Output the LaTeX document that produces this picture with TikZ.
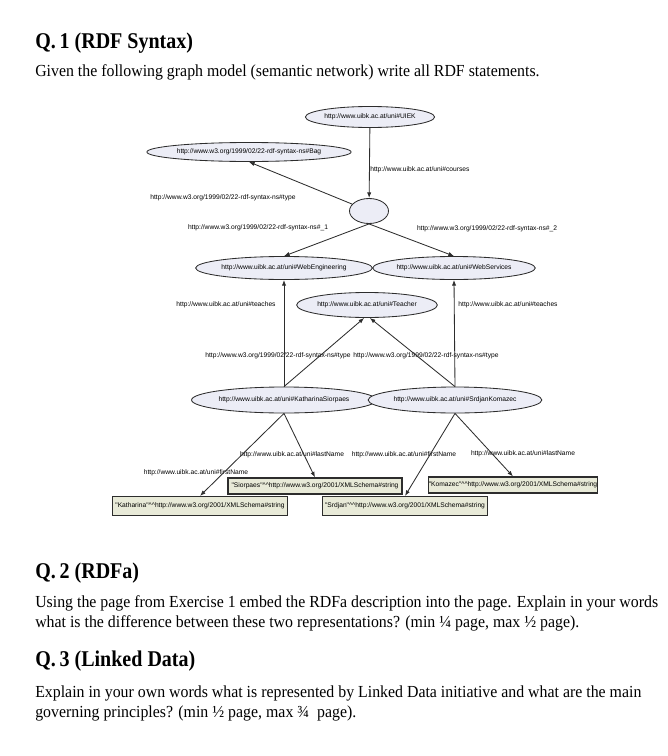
\documentclass[tikz,border=0pt]{standalone}
\usepackage{fontspec}
\setmainfont{Liberation Serif}[FakeStretch=0.89]
\newfontfamily\bodyfont{Liberation Serif}[FakeStretch=0.94]
\newfontfamily\diagfont{Liberation Sans}
\usepackage{xcolor}
\usepackage{tikz}
\usetikzlibrary{arrows.meta, positioning, shapes.geometric}

\definecolor{resfill}{RGB}{236,237,246}
\definecolor{litfill}{RGB}{232,234,216}
\definecolor{edgegray}{RGB}{45,45,45}

\begin{document}
\begin{tikzpicture}[
  x=0.025cm, y=-0.025cm,
  every node/.style={font=\diagfont\fontsize{4.75}{5.6}\selectfont, inner sep=0pt},
  res/.style={draw=edgegray,ellipse,fill=resfill,line width=0.6pt,minimum width=#1*0.025cm,minimum height=19*0.025cm},
  lit/.style={draw=edgegray,rectangle,fill=litfill,line width=0.8pt,minimum width=#1*0.025cm,minimum height=16*0.025cm},
  tall/.style={minimum height=#1*0.025cm},
  prop/.style={->,>={Latex[length=4pt,width=3pt]},edgegray,line width=0.6pt},
  heading/.style={anchor=base west,font=\bfseries\fontsize{16}{19}\selectfont},
  body/.style={anchor=base west,font=\bodyfont\fontsize{12}{14}\selectfont}
]
\useasboundingbox (0,0) rectangle (667,756);
% Q.1
\node[heading] (t1) at (35,48) {Q.\,1 (RDF Syntax)};
\node[body] (q1) at (35,76) {Given the following graph model (semantic network) write all RDF statements.};
% resources
\node[res=122,tall=21] (uiek) at (370,117) {http://www.uibk.ac.at/uni\#UIEK};
\node[res=168] (bag) at (249,152) {http://www.w3.org/1999/02/22-rdf-syntax-ns\#Bag};
\node[res=39,tall=25] (blank) at (369,211) {};
\node[res=156,tall=23] (weng) at (284,268) {http://www.uibk.ac.at/uni\#WebEngineering};
\node[res=155,tall=23] (wserv) at (454,268) {http://www.uibk.ac.at/uni\#WebServices};
\node[res=130,tall=25] (teacher) at (367,305) {http://www.uibk.ac.at/uni\#Teacher};
\node[res=165,tall=26] (kath) at (284,400) {http://www.uibk.ac.at/uni\#KatharinaSiorpaes};
\node[res=155,tall=26] (srdj) at (455,400) {http://www.uibk.ac.at/uni\#SrdjanKomazec};
% literals
\node[lit=175,tall=19] (kfirst) at (200,506) {"Katharina"\textasciicircum\textasciicircum http://www.w3.org/2001/XMLSchema\#string};
\node[lit=174] (klast) at (315,486) {"Siorpaes"\textasciicircum\textasciicircum http://www.w3.org/2001/XMLSchema\#string};
\node[lit=165,tall=19] (sfirst) at (405,506) {"Srdjan"\textasciicircum\textasciicircum http://www.w3.org/2001/XMLSchema\#string};
\node[lit=168] (slast) at (513,485) {"Komazec"\textasciicircum\textasciicircum http://www.w3.org/2001/XMLSchema\#string};
% property labels
\node[anchor=west] (lcourses) at (370,170) {http://www.uibk.ac.at/uni\#courses};
\node (ltype) at (223,198) {http://www.w3.org/1999/02/22-rdf-syntax-ns\#type};
\node (lone) at (258,228) {http://www.w3.org/1999/02/22-rdf-syntax-ns\#\_1};
\node (ltwo) at (487,229) {http://www.w3.org/1999/02/22-rdf-syntax-ns\#\_2};
\node (lteachk) at (226,305) {http://www.uibk.ac.at/uni\#teaches};
\node (lteachs) at (508,305) {http://www.uibk.ac.at/uni\#teaches};
\node (ltypek) at (278,356) {http://www.w3.org/1999/02/22-rdf-syntax-ns\#type};
\node (ltypes) at (426,356) {http://www.w3.org/1999/02/22-rdf-syntax-ns\#type};
\node (lfirstk) at (196,473) {http://www.uibk.ac.at/uni\#firstName};
\node (llastk) at (292,455) {http://www.uibk.ac.at/uni\#lastName};
\node (lfirsts) at (404,455) {http://www.uibk.ac.at/uni\#firstName};
\node (llasts) at (523,454) {http://www.uibk.ac.at/uni\#lastName};
% statements
\draw[prop] (uiek) -- (blank); \draw[prop] (blank) -- (bag.south);
\draw[prop] (blank.south) -- (weng.north); \draw[prop] (blank.south) -- (wserv.north);
\draw[prop] (kath.north) -- (weng.south); \draw[prop] (srdj.north) -- (wserv.south);
\draw[prop] (kath.north) -- ([xshift=-2]teacher.south); \draw[prop] (srdj.north) -- ([xshift=2]teacher.south);
\draw[prop] (kath.south) -- (kfirst.north); \draw[prop] (kath.south) -- (klast.north);
\draw[prop] (srdj.south) -- (sfirst.north); \draw[prop] (srdj.south) -- (slast.north);
% Q.2
\node[heading] (t2) at (35,578) {Q.\,2 (RDFa)};
\node[body] (q2a) at (35,607) {Using the page from Exercise 1 embed the RDFa description into the page. Explain in your words};
\node[body] (q2b) at (35,627) {what is the difference between these two representations? (min ¼ page, max ½ page).};
% Q.3
\node[heading] (t3) at (35,666) {Q.\,3 (Linked Data)};
\node[body] (q3a) at (35,697) {Explain in your own words what is represented by Linked Data initiative and what are the main};
\node[body] (q3b) at (35,717) {governing principles? (min ½ page, max ¾~ page).};
\end{tikzpicture}
\end{document}
